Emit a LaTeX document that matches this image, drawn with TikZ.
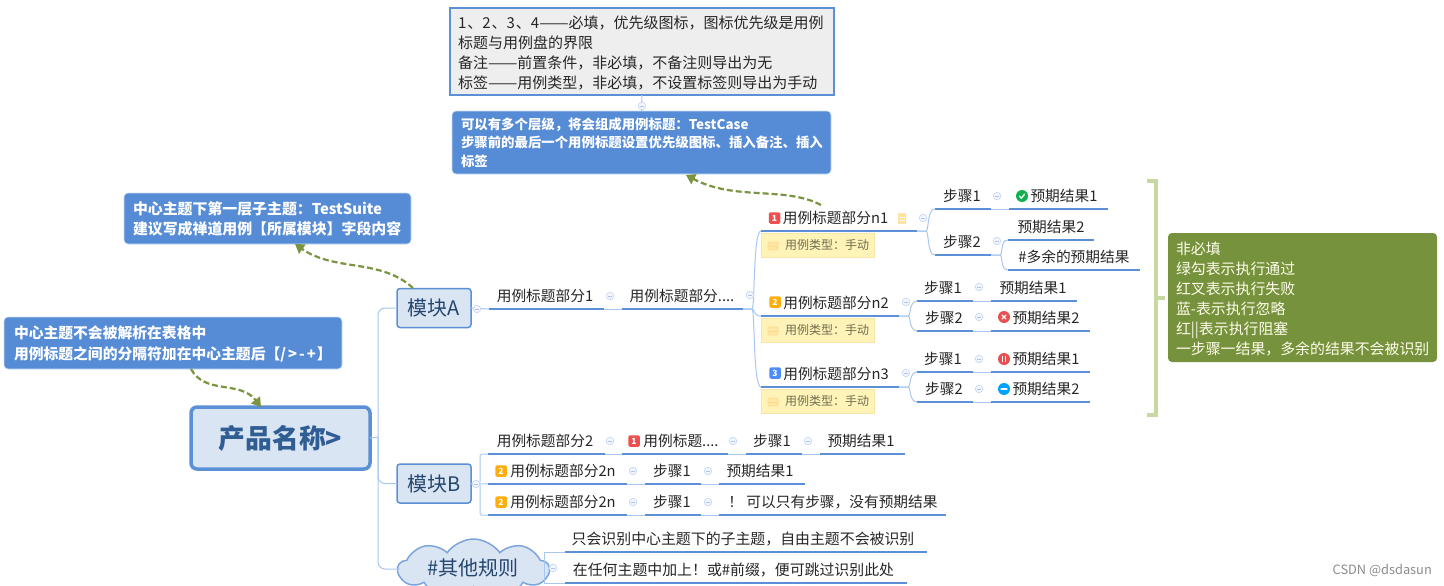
\documentclass[tikz,border=0pt]{standalone}
\usepackage{fontspec}
\usepackage{graphicx}
\setmainfont{Noto Sans CJK SC}
\usetikzlibrary{arrows.meta,shapes.symbols,calc}
\definecolor{ubl}{HTML}{5B8FD6}
\definecolor{cbl}{HTML}{A9C7EE}
\definecolor{notebl}{HTML}{568CD6}
\definecolor{topicfill}{HTML}{DAE5F3}
\definecolor{olive}{HTML}{7A9440}
\definecolor{gbox}{HTML}{76923C}
\definecolor{brk}{HTML}{C6D9A0}
\definecolor{ink}{HTML}{262626}
\definecolor{deep}{HTML}{2F5D94}
\definecolor{modtext}{HTML}{24466F}
\definecolor{tagf}{HTML}{FFF3B8}
\definecolor{tagb}{HTML}{F6E6A6}
\definecolor{tagt}{HTML}{6E6E50}
\definecolor{tagif}{HTML}{FFE7A8}
\definecolor{tagid}{HTML}{FDD98A}
\definecolor{pred}{HTML}{EF4F4F}
\definecolor{porange}{HTML}{FFAD0A}
\definecolor{pblue}{HTML}{4D8BFF}
\definecolor{sgreen}{HTML}{10B050}
\definecolor{sred}{HTML}{E94F4F}
\definecolor{sblue}{HTML}{00A2FF}
\definecolor{docy}{HTML}{FFE3A3}
\tikzset{
  topicnode/.style={inner sep=0pt,outer sep=0pt,minimum height=26pt,text=ink,font=\fontsize{14.7}{18}\selectfont},
  ul/.style={ubl,line width=2pt},
  conn/.style={cbl,line width=1pt},
  bch/.style={to path={-- ++(#1,0) .. controls +(3,0) and +(-8,0) .. (\tikztotarget)}},
  coll/.style={circle,draw=cbl!70,fill=blue!4,line width=.7pt,minimum size=7.5pt,inner sep=0pt,outer sep=0pt,
    path picture={\draw[cbl,line width=.7pt] ([xshift=-2pt]path picture bounding box.center) -- ([xshift=2pt]path picture bounding box.center);}},
  modbox/.style={draw=ubl,fill=topicfill,line width=1.5pt,rounded corners=3pt,minimum width=74pt,minimum height=39pt,inner sep=0pt,outer sep=0pt,text=modtext,font=\fontsize{20}{24}\selectfont},
  rootbox/.style={draw=ubl,fill=topicfill,line width=3.5pt,rounded corners=6pt,minimum width=179pt,minimum height=62pt,inner sep=0pt,outer sep=0pt,text=deep,font=\bfseries\fontsize{26.8}{30}\selectfont},
  cloudbox/.style={cloud,cloud puffs=9,cloud puff arc=110,aspect=2.7,draw=ubl!80,fill=topicfill,line width=1.5pt,minimum width=151pt,minimum height=60pt,inner sep=0pt,outer sep=0pt},
  notebox/.style={fill=notebl,draw=cbl!60,line width=.6pt,rounded corners=4pt,text=white,align=left,outer sep=0pt,inner ysep=0pt},
  greybox/.style={fill=black!6.5,draw=ubl,line width=2pt,text=ink,align=left,outer sep=0pt,inner ysep=0pt,inner xsep=8pt,text width=368pt,minimum height=87pt,font=\fontsize{15}{20}\selectfont},
  greenbox/.style={fill=gbox,rounded corners=4pt,text=white!92!yellow,align=left,outer sep=0pt,inner ysep=0pt,inner xsep=8pt,text width=253pt,minimum height=129pt,font=\fontsize{14.9}{20.1}\selectfont},
  dasharrow/.style={olive,line width=2.2pt,dash pattern=on 6pt off 3pt,-{Triangle[length=9pt,width=11pt]}},
  brace/.style={brk,line width=3.5pt},
  tagbox/.style={fill=tagf,draw=tagb,line width=.6pt,minimum width=113pt,minimum height=24pt,inner sep=0pt,outer sep=0pt,text=tagt,font=\fontsize{12}{14}\selectfont},
  tagicon/.style={draw=tagid,fill=tagif,line width=.8pt,rounded corners=1.5pt,minimum width=10pt,minimum height=8pt,inner sep=0pt,
    path picture={\draw[tagid,line width=.8pt] (path picture bounding box.west) -- (path picture bounding box.east);}},
  prio/.style={fill=#1,rounded corners=1.5pt,minimum size=11.5pt,inner sep=0pt,outer sep=0pt,text=white,font=\bfseries\fontsize{8.5}{9}\selectfont},
  stat/.style={circle,fill=#1,minimum size=12pt,inner sep=0pt,outer sep=0pt},
  docicon/.style={fill=docy,minimum width=8pt,minimum height=11pt,inner sep=0pt,
    path picture={\draw[white,line width=.7pt] ([shift={(-2.5,-1)}]path picture bounding box.center) -- ([shift={(2.5,-1)}]path picture bounding box.center) ([shift={(-2.5,2)}]path picture bounding box.center) -- ([shift={(2.5,2)}]path picture bounding box.center);}},
  statmark/.style={white,line width=1.3pt,line cap=round}
}
\newcommand{\topic}[6]{%
  \pgfmathsetmacro{\tcx}{(#2+#3)/2}\pgfmathsetmacro{\tw}{#3-#2}\pgfmathsetmacro{\td}{2*(#5-\tcx)}%
  \node[topicnode,minimum width=\tw pt] (#1) at (\tcx,#4) {\kern\td pt #6};%
  \draw[ul] (#1.south west) -- (#1.south east);}
\newcommand{\wdash}{\scalebox{1.17}[1]{——}}
\newcommand{\tops}[1]{\rule{0pt}{#1pt}}
\newcommand{\lng}{\fontsize{14.9}{18}\selectfont}
\begin{document}
\begin{tikzpicture}[x=1pt,y=-1pt]
\useasboundingbox[fill=white] (0,0) rectangle (1444,586);
\coordinate (trunk) at (378,437);
% nodes: main
\node[rootbox] (root) at (280.5,438) {\raisebox{-2.5pt}{产品名称>}};
\node[modbox] (A) at (434,308) {\raisebox{-1pt}{模块A}};
\node[modbox] (B) at (434,483.5) {\raisebox{-1pt}{模块B}};
\node[cloudbox] (cl) at (473.5,569) {};
\node[text=modtext,font=\fontsize{20}{24}\selectfont,inner sep=0pt] (cltext) at (473,568) {\#其他规则};
% notes
\node[greybox] (grey) at (642,51.5) {\tops{15.2}1\kern1pt、2\kern1pt、3\kern1pt、4\wdash 必填，优先级图标，图标优先级是用例\\标题与用例盘的界限\\备注\wdash 前置条件，非必填，不备注则导出为无\\标签\wdash 用例类型，非必填，不设置标签则导出为手动};
\node[notebox,inner xsep=9pt,text width=361pt,minimum height=63pt,font=\bfseries\fontsize{13.4}{18.5}\selectfont] (bn1) at (641.5,142.5) {可以有多个层级，将会组成用例标题：TestCase\\步骤前的最后一个用例标题设置优先级图标、插入备注、插入\\标签};
\node[notebox,inner xsep=9pt,text width=269pt,minimum height=51pt,font=\bfseries\fontsize{14.9}{20}\selectfont] (bn2) at (267.5,218.5) {中心主题下第一层子主题：TestSuite\\建议写成禅道用例【所属模块】字段内容};
\node[notebox,inner xsep=10pt,text width=318pt,minimum height=52pt,font=\bfseries\fontsize{14.8}{21}\selectfont] (bn3) at (173,343) {\tops{15}中心主题不会被解析在表格中\\用例标题之间的分隔符加在中心主题后【/\kern2pt>\kern2pt-\kern2pt+\kern1pt】};
\node[greenbox] (gn) at (1302.5,297.5) {\tops{16}非必填\\绿勾表示执行通过\\红叉表示执行失败\\蓝-表示执行忽略\\红||表示执行阻塞\\一步骤一结果，多余的结果不会被识别};
% topics
\topic{a1}{489}{604}{296}{545}{用例标题部分1}
\topic{a2}{622}{743}{296}{682}{用例标题部分....}
\topic{n1}{761}{917}{218}{835.5}{用例标题部分n1}
\topic{n2}{761}{899}{303}{836}{用例标题部分n2}
\topic{n3}{761}{899}{374}{836}{用例标题部分n3}
\topic{nas}{935}{991}{196}{962}{步骤1}
\topic{nar}{1009}{1108}{196}{1064}{预期结果1}
\topic{nbs}{935}{991}{242}{962}{步骤2}
\topic{nbr}{1008}{1094}{227}{1051}{预期结果2}
\topic{nbq}{1008}{1140}{257}{1074}{\#多余的预期结果}
\topic{oas}{917}{973}{288}{943}{步骤1}
\topic{oar}{991}{1077}{288}{1033}{预期结果1}
\topic{obs}{917}{973}{318}{944}{步骤2}
\topic{obr}{991}{1090}{318}{1046}{预期结果2}
\topic{pas}{917}{973}{359}{943}{步骤1}
\topic{par}{991}{1090}{359}{1046}{预期结果1}
\topic{pbs}{917}{973}{389}{944}{步骤2}
\topic{pbr}{991}{1090}{389}{1046}{预期结果2}
\topic{ra}{488}{605}{441}{545}{用例标题部分2}
\topic{rb}{622}{728}{441}{681}{用例标题....}
\topic{rc}{746}{801.5}{441}{772}{步骤1}
\topic{rd}{820}{905}{441}{861}{预期结果1}
\topic{sa}{488}{627}{471}{563}{用例标题部分2n}
\topic{sb}{645}{701}{471}{672}{步骤1}
\topic{sc}{719}{805}{471}{760}{预期结果1}
\topic{ta}{488}{627}{502}{563}{用例标题部分2n}
\topic{tb}{645}{701}{502}{672}{步骤1}
\topic{tc}{719}{946}{502}{833}{！ 可以只有步骤，没有预期结果}
\topic{oa}{565}{926.5}{539}{743}{\lng 只会识别中心主题下的子主题，自由主题不会被识别}
\topic{ob}{565}{906.5}{570}{733.5}{\lng 在任何主题中加上！或\#前缀，便可跳过识别此处}
% tags
\node[tagbox] (tg1) at (817.5,245) {\kern19pt 用例类型：手动};
\node[tagbox] (tg2) at (817.5,330) {\kern19pt 用例类型：手动};
\node[tagbox] (tg3) at (817.5,401) {\kern19pt 用例类型：手动};
\node[tagicon] (ti1) at (773,246) {};
\node[tagicon] (ti2) at (773,331) {};
\node[tagicon] (ti3) at (773,402) {};
% priority icons
\node[prio=pred] (p1) at (774.5,218) {1};
\node[prio=porange] (p2) at (775,302) {2};
\node[prio=pblue] (p3) at (775,373) {3};
\node[prio=pred] (p4) at (634,441) {1};
\node[prio=porange] (p5) at (501,471) {2};
\node[prio=porange] (p6) at (501,502) {2};
\node[docicon] (doc) at (902,218) {};
% status icons
\node[stat=sgreen] (st1) at (1022,196) {};
\draw[statmark] (1019.5,196.2) -- (1021.3,198.2) -- (1024.7,194);
\node[stat=sred] (st2) at (1004,317) {};
\draw[statmark] (1002,315) -- (1006,319) (1006,315) -- (1002,319);
\node[stat=sred] (st3) at (1004,359) {};
\draw[statmark] (1002.5,356.5) -- (1002.5,361.5) (1005.5,356.5) -- (1005.5,361.5);
\node[stat=sblue] (st4) at (1004,389) {};
\draw[statmark] (1001,389) -- (1007,389);
% connectors
\draw[conn,rounded corners=7pt] (A.west) -| (trunk) |- ([xshift=3pt]cl.west);
\draw[conn,rounded corners=7pt] (B.west) -| (trunk);
\draw[conn] (root.east) -- (trunk);
\draw[conn] (A.east) -- (a1.south west);
\draw[conn] (a1.south east) -- (a2.south west);
\draw[conn] (a2.south east) to[bch=9] (n1.south west);
\draw[conn] (a2.south east) to[bch=9] (n2.south west);
\draw[conn] (a2.south east) to[bch=9] (n3.south west);
\draw[conn] (n1.south east) to[bch=9] (nas.south west);
\draw[conn] (n1.south east) to[bch=9] (nbs.south west);
\draw[conn] (nas.south east) -- (nar.south west);
\draw[conn] (nbs.south east) to[bch=9] (nbr.south west);
\draw[conn] (nbs.south east) to[bch=9] (nbq.south west);
\draw[conn] (n2.south east) to[bch=9] (oas.south west);
\draw[conn] (n2.south east) to[bch=9] (obs.south west);
\draw[conn] (oas.south east) -- (oar.south west);
\draw[conn] (obs.south east) -- (obr.south west);
\draw[conn] (n3.south east) to[bch=9] (pas.south west);
\draw[conn] (n3.south east) to[bch=9] (pbs.south west);
\draw[conn] (pas.south east) -- (par.south west);
\draw[conn] (pbs.south east) -- (pbr.south west);
\draw[conn,rounded corners=1.5pt] (B.east) -- ++(9,0) |- (ra.south west);
\draw[conn] (B.east) -- (sa.south west);
\draw[conn,rounded corners=1.5pt] (B.east) -- ++(9,0) |- (ta.south west);
\draw[conn] (ra.south east) -- (rb.south west);
\draw[conn] (rb.south east) -- (rc.south west);
\draw[conn] (rc.south east) -- (rd.south west);
\draw[conn] (sa.south east) -- (sb.south west);
\draw[conn] (sb.south east) -- (sc.south west);
\draw[conn] (ta.south east) -- (tb.south west);
\draw[conn] (tb.south east) -- (tc.south west);
\coordinate (clr) at (544,568);
\draw[conn] (clr) |- (oa.south west);
\draw[conn] (clr) |- (ob.south west);
\draw[conn] (grey.south) -- (bn1.north);
% collapse marks
\foreach \x/\y [count=\i] in {477/309,610/296,750/295,923/218,997/196,997/241,906/302,979/287,979/317,906/373,979/359,979/389,642/106,476/484,553/568,610/441,733/441,808/441,633/471,708/471,633/502,708/502}
  \node[coll] (col\i) at (\x,\y) {};
% dashed arrows
\coordinate (d1s) at (821,205); \coordinate (d1e) at (686,175);
\coordinate (d2s) at (413,288); \coordinate (d2e) at (295,244);
\coordinate (d3s) at (191,369); \coordinate (d3e) at (261,407);
\draw[dasharrow] (d1s) .. controls (785,186) and (735,201) .. (d1e);
\draw[dasharrow] (d2s) .. controls (380,258) and (335,272) .. (d2e);
\draw[dasharrow] (d3s) .. controls (205,395) and (240,380) .. (d3e);
% bracket
\coordinate (bt) at (1147,181); \coordinate (bb) at (1147,415); \coordinate (bm) at (1156,298); \coordinate (bk) at (1165,298);
\draw[brace] (bt) -- (1156,181) -- (1156,415) -- (bb);
\draw[brace] (bm) -- (bk);
% watermark
\node[text=black!45,font=\fontsize{12.8}{14}\selectfont,inner sep=0pt,anchor=east] (wm) at (1432,571) {CSDN @dsdasun};
\end{tikzpicture}
\end{document}
